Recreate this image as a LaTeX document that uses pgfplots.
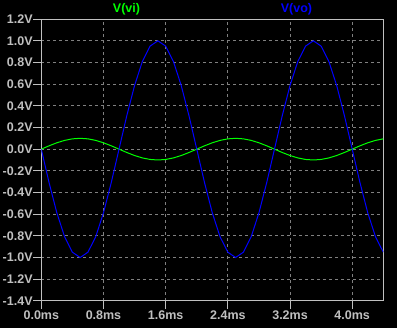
\documentclass[border=0pt]{standalone}
\usepackage{pgfplots}
\pgfplotsset{compat=1.18}
\usepackage{pgfplotstable}
\usepackage{fontspec}
\setmainfont{Liberation Sans}
\definecolor{fr}{RGB}{192,192,192}
\definecolor{gd}{RGB}{128,128,128}
\definecolor{vig}{RGB}{0,255,0}
\definecolor{vob}{RGB}{0,0,255}
\pgfplotstableread{
t vi vo
0.0 0 0
0.1 0.0309 -0.3090
0.2 0.0588 -0.5878
0.3 0.0809 -0.8090
0.4 0.0951 -0.9511
0.5 0.1 -1
0.6 0.0951 -0.9511
0.7 0.0809 -0.8090
0.8 0.0588 -0.5878
0.9 0.0309 -0.3090
1.0 0 0
1.1 -0.0309 0.3090
1.2 -0.0588 0.5878
1.3 -0.0809 0.8090
1.4 -0.0951 0.9511
1.5 -0.1 1
1.6 -0.0951 0.9511
1.7 -0.0809 0.8090
1.8 -0.0588 0.5878
1.9 -0.0309 0.3090
2.0 0 0
2.1 0.0309 -0.3090
2.2 0.0588 -0.5878
2.3 0.0809 -0.8090
2.4 0.0951 -0.9511
2.5 0.1 -1
2.6 0.0951 -0.9511
2.7 0.0809 -0.8090
2.8 0.0588 -0.5878
2.9 0.0309 -0.3090
3.0 0 0
3.1 -0.0309 0.3090
3.2 -0.0588 0.5878
3.3 -0.0809 0.8090
3.4 -0.0951 0.9511
3.5 -0.1 1
3.6 -0.0951 0.9511
3.7 -0.0809 0.8090
3.8 -0.0588 0.5878
3.9 -0.0309 0.3090
4.0 0 0
4.1 0.0309 -0.3090
4.2 0.0588 -0.5878
4.3 0.0809 -0.8090
4.4 0.0951 -0.9511
}\data
\begin{document}
\begin{tikzpicture}[x=1bp,y=1bp]
\fill[black] (0,0) rectangle (397,328);
\begin{axis}[
  at={(41.3bp,27.3bp)}, anchor=south west,
  scale only axis, width=342bp, height=281.7bp,
  xmin=0, xmax=4.4, ymin=-1.4, ymax=1.2,
  axis line style={draw=fr, line width=1.2bp},
  xtick={0,0.8,1.6,2.4,3.2,4.0},
  xticklabels={0.0ms,0.8ms,1.6ms,2.4ms,3.2ms,4.0ms},
  ytick={-1.4,-1.2,-1.0,-0.8,-0.6,-0.4,-0.2,0,0.2,0.4,0.6,0.8,1.0,1.2},
  yticklabels={-1.4V,-1.2V,-1.0V,-0.8V,-0.6V,-0.4V,-0.2V,0.0V,0.2V,0.4V,0.6V,0.8V,1.0V,1.2V},
  tick align=outside, tickpos=left,
  major tick length=8bp,
  tick style={draw=fr, line width=1bp},
  ticklabel style={text=fr, font=\fontsize{12.5bp}{14bp}\selectfont\bfseries},
  yticklabel style={inner xsep=0.5bp},
  xticklabel style={inner ysep=2bp},
  grid=major,
  major grid style={draw=gd, dash pattern=on 3bp off 3bp, line width=0.9bp},
  clip=true,
]
\addplot[vig, line width=1bp] table[x=t, y=vi] {\data};
\addplot[vob, line width=1bp] table[x=t, y=vo] {\data};
\end{axis}
\node[text=vig, font=\fontsize{12.5bp}{14bp}\selectfont\bfseries] at (126.5,319) {V(vi)};
\node[text=vob, font=\fontsize{12.5bp}{14bp}\selectfont\bfseries] at (296.5,319) {V(vo)};
\end{tikzpicture}
\end{document}
